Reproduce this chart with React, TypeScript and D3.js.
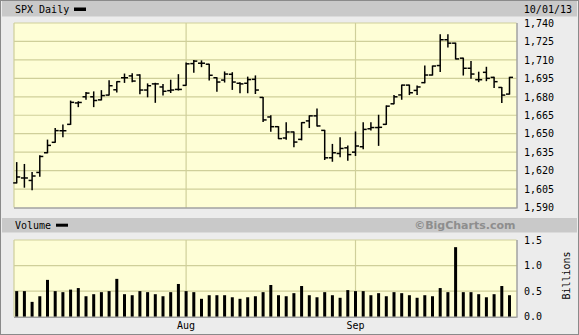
import React from 'react';
import * as d3 from 'd3';

const dates = [
  '2013-07-01','2013-07-02','2013-07-03','2013-07-05','2013-07-08','2013-07-09','2013-07-10','2013-07-11','2013-07-12',
  '2013-07-15','2013-07-16','2013-07-17','2013-07-18','2013-07-19','2013-07-22','2013-07-23','2013-07-24','2013-07-25',
  '2013-07-26','2013-07-29','2013-07-30','2013-07-31','2013-08-01','2013-08-02','2013-08-05','2013-08-06','2013-08-07',
  '2013-08-08','2013-08-09','2013-08-12','2013-08-13','2013-08-14','2013-08-15','2013-08-16','2013-08-19','2013-08-20',
  '2013-08-21','2013-08-22','2013-08-23','2013-08-26','2013-08-27','2013-08-28','2013-08-29','2013-08-30','2013-09-03',
  '2013-09-04','2013-09-05','2013-09-06','2013-09-09','2013-09-10','2013-09-11','2013-09-12','2013-09-13','2013-09-16',
  '2013-09-17','2013-09-18','2013-09-19','2013-09-20','2013-09-23','2013-09-24','2013-09-25','2013-09-26','2013-09-27',
  '2013-09-30','2013-10-01',
];

const opens = [
  1610, 1614, 1612, 1618.5, 1634.5, 1643, 1652.4, 1657.6, 1675, 1680, 1680, 1677.5, 1681.4, 1685.7, 1695.5, 1697, 1697.7,
  1685.5, 1690.5, 1688, 1685, 1686, 1689.3, 1707, 1707.3, 1706.5, 1695.5, 1693.6, 1698.3, 1691, 1691, 1694.2, 1679.5,
  1663.6, 1655.7, 1646.5, 1651.4, 1645.4, 1660.4, 1664.5, 1652.7, 1630.4, 1633.9, 1638.5, 1635, 1639.4, 1654, 1655,
  1657.6, 1674.3, 1681.5, 1689.5, 1685.2, 1691.5, 1697.7, 1705.4, 1726.4, 1723.6, 1711.4, 1703.2, 1693.9, 1699.9,
  1695.8, 1687.6, 1682.2,
];
const highs = [
  1626.5, 1625, 1618.5, 1632, 1644.8, 1654.3, 1657, 1676.5, 1676, 1683.5, 1684, 1685, 1693, 1692.3, 1698.5, 1698.8, 1698,
  1690.5, 1691, 1690, 1693.5, 1698, 1707.5, 1709.5, 1709.2, 1706.5, 1695.5, 1700.2, 1699.6, 1691.5, 1696, 1697, 1679.5,
  1664.5, 1655.7, 1659, 1651.4, 1659, 1664.5, 1670, 1652.7, 1641.3, 1646.7, 1640, 1651.4, 1659, 1659, 1665, 1672.6,
  1681, 1689.5, 1689.5, 1688.7, 1705, 1705, 1730.5, 1730.5, 1723.6, 1711.4, 1708.6, 1700, 1704, 1695.8, 1687.6, 1695.8,
];
const lows = [
  1610, 1606.5, 1604.5, 1615.5, 1634.5, 1643, 1647.5, 1657.6, 1672, 1678, 1672, 1677.5, 1681.4, 1684, 1691.7, 1692.3,
  1682.5, 1680, 1675.5, 1681.5, 1683.5, 1685.5, 1689.3, 1700, 1704.5, 1693.6, 1684.6, 1692, 1686, 1683.3, 1683.3, 1682.7,
  1660, 1652, 1646, 1645.5, 1639.4, 1645, 1655, 1656.3, 1629, 1627.6, 1631.2, 1628.5, 1632.3, 1637.8, 1653, 1640.5,
  1657.6, 1674.3, 1678, 1681.8, 1681.9, 1691.5, 1697.7, 1700.5, 1720.4, 1710.8, 1697.7, 1695, 1692.3, 1693.1, 1687.6,
  1675.4, 1682.2,
];
const closes = [
  1614.8, 1614, 1615.6, 1631.5, 1640.5, 1652.5, 1652.4, 1675.5, 1675.4, 1683, 1677, 1681, 1689, 1692.3, 1695.5, 1692.8,
  1685.5, 1689, 1690.5, 1684.5, 1685.5, 1686, 1706.8, 1709, 1707.3, 1697.5, 1692, 1698.5, 1692, 1690.5, 1694, 1685.5,
  1661.2, 1655.7, 1646, 1651.4, 1643.2, 1659, 1664.5, 1656.3, 1630.4, 1634.5, 1638, 1633, 1640, 1653.5, 1655, 1655.2,
  1672.4, 1680, 1689.5, 1683.3, 1688, 1697.7, 1705, 1726.4, 1723.6, 1710.8, 1703.2, 1698.5, 1693.9, 1695, 1692.3,
  1681.4, 1695.8,
];
const volumes = [
  0.50, 0.50, 0.29, 0.40, 0.72, 0.50, 0.48, 0.53, 0.56, 0.40, 0.44, 0.48, 0.50, 0.74, 0.44, 0.42, 0.50, 0.48, 0.44, 0.40,
  0.48, 0.64, 0.50, 0.48, 0.35, 0.42, 0.42, 0.42, 0.38, 0.35, 0.38, 0.40, 0.48, 0.62, 0.42, 0.40, 0.46, 0.60, 0.42, 0.38,
  0.48, 0.42, 0.37, 0.52, 0.50, 0.50, 0.42, 0.46, 0.40, 0.48, 0.46, 0.42, 0.37, 0.42, 0.40, 0.56, 0.48, 1.36, 0.48, 0.48,
  0.44, 0.38, 0.44, 0.60, 0.42,
];

const priceTicks = [1590, 1605, 1620, 1635, 1650, 1665, 1680, 1695, 1710, 1725, 1740];
const volumeTicks = [0, 0.5, 1.0, 1.5];
const monthDates = ['2013-08-01', '2013-09-03'];
const monthLabels = ['Aug', 'Sep'];

const MONO = '"DejaVu Sans Mono", monospace';
const GRID = '#cfcf9a';
const PLOT_BG = '#fefed6';

export default function App() {
  const W = 579, H = 335;
  const pL = 14, pR = 516.5, pT = 23, pB = 207.5;
  const vT = 240, vB = 316.7;

  const x = d3.scalePoint<string>().domain(dates).range([16.7, 509.5]);
  const y = d3.scaleLinear().domain([1590, 1740]).range([pB, pT]);
  const yv = d3.scaleLinear().domain([0, 1.5]).range([vB, vT]);
  const fmt = d3.format(',');
  const fmtV = d3.format('.1f');
  const tick = 3.5;

  return (
    <svg width={W} height={H} style={{ position: 'absolute', left: 0, top: 0, display: 'block' }}>
      <rect x={0.5} y={0.5} width={W - 1} height={H - 1} fill="#ececec" stroke="#8a8a8a" />
      {/* header bands */}
      <rect x={2} y={1} width={W - 4} height={15.5} fill="#c9c9c9" />
      <rect x={2} y={218} width={W - 4} height={14.5} fill="#c9c9c9" />
      <text x={15} y={12.5} fontFamily={MONO} fontSize={10} fill="#000">SPX Daily</text>
      <rect x={74} y={7.5} width={12} height={3.5} fill="#000" />
      <text x={572} y={12.5} fontFamily={MONO} fontSize={10} fill="#000" textAnchor="end">10/01/13</text>
      <text x={15} y={228.5} fontFamily={MONO} fontSize={10} fill="#000">Volume</text>
      <rect x={56} y={223.7} width={12} height={3} fill="#000" />
      <text x={515.5} y={228.5} fontFamily='"DejaVu Sans", sans-serif' fontWeight="bold" fontSize={11} fill="#8e8e8e" textAnchor="end">©BigCharts.com</text>

      {/* price plot */}
      <rect x={pL} y={pT} width={pR - pL} height={pB - pT} fill={PLOT_BG} />
      {priceTicks.slice(1, -1).map((t) => (
        <line key={'pg' + t} x1={pL} x2={pR} y1={y(t)} y2={y(t)} stroke={GRID} strokeWidth={1.2} />
      ))}
      {monthDates.map((d) => (
        <line key={'pv' + d} x1={x(d)} x2={x(d)} y1={pT} y2={pB} stroke={GRID} strokeWidth={1.2} />
      ))}
      <line x1={pL} x2={pR} y1={pT} y2={pT} stroke={GRID} strokeWidth={1.2} />
      <line x1={pL} x2={pL} y1={pT} y2={pB} stroke={GRID} strokeWidth={1.2} />
      <line x1={pL} x2={pR} y1={pB + 0.5} y2={pB + 0.5} stroke="#7d7d7d" strokeWidth={1} />
      <line x1={pR + 0.5} x2={pR + 0.5} y1={pT} y2={pB + 1} stroke="#7d7d7d" strokeWidth={1} />
      {priceTicks.map((t) => (
        <text key={'pl' + t} x={524} y={y(t) + 3.7} fontFamily={MONO} fontSize={10} fill="#000">{fmt(t)}</text>
      ))}
      {dates.map((d, i) => {
        const cx = x(d) as number;
        return (
          <g key={'b' + d} stroke="#000" strokeWidth={1.5}>
            <line x1={cx} x2={cx} y1={y(highs[i]) - 0.5} y2={y(lows[i]) + 0.5} />
            <line x1={cx - tick} x2={cx} y1={y(opens[i])} y2={y(opens[i])} />
            <line x1={cx} x2={cx + tick} y1={y(closes[i])} y2={y(closes[i])} />
          </g>
        );
      })}

      {/* volume plot */}
      <rect x={pL} y={vT} width={pR - pL} height={vB - vT} fill={PLOT_BG} />
      {volumeTicks.slice(1, -1).map((t) => (
        <line key={'vg' + t} x1={pL} x2={pR} y1={yv(t)} y2={yv(t)} stroke={GRID} strokeWidth={1.2} />
      ))}
      {monthDates.map((d) => (
        <line key={'vv' + d} x1={x(d)} x2={x(d)} y1={vT} y2={vB} stroke={GRID} strokeWidth={1.2} />
      ))}
      <line x1={pL} x2={pR} y1={vT} y2={vT} stroke={GRID} strokeWidth={1.2} />
      <line x1={pL} x2={pL} y1={vT} y2={vB} stroke={GRID} strokeWidth={1.2} />
      {dates.map((d, i) => (
        <rect key={'v' + d} x={(x(d) as number) - 1.5} y={yv(volumes[i])} width={3} height={vB - yv(volumes[i])} fill="#000" />
      ))}
      <line x1={pL} x2={pR} y1={vB + 0.5} y2={vB + 0.5} stroke="#7d7d7d" strokeWidth={1} />
      <line x1={pR + 0.5} x2={pR + 0.5} y1={vT} y2={vB + 1} stroke="#7d7d7d" strokeWidth={1} />
      {volumeTicks.map((t) => (
        <text key={'vl' + t} x={524} y={yv(t) + 3.5} fontFamily={MONO} fontSize={10} fill="#000">{fmtV(t)}</text>
      ))}
      <text transform="translate(569.5,275.5) rotate(-90)" textAnchor="middle" fontFamily={MONO} fontSize={10} fill="#000">Billions</text>
      {monthDates.map((d, i) => (
        <text key={'ml' + d} x={x(d)} y={328.5} textAnchor="middle" fontFamily={MONO} fontSize={10} fill="#000">{monthLabels[i]}</text>
      ))}
    </svg>
  );
}
